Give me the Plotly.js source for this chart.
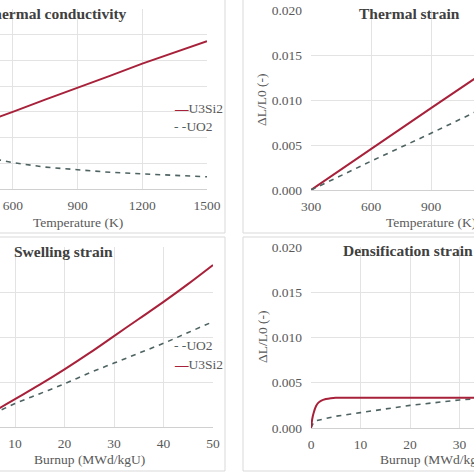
<!DOCTYPE html>
<html>
<head>
<meta charset="utf-8">
<script src="https://cdn.plot.ly/plotly-3.0.1.min.js"></script>
<style>
html,body{margin:0;padding:0;width:474px;height:474px;overflow:hidden;background:#fff;}
#wrap{position:absolute;left:-130px;top:0;width:730px;height:474px;}
</style>
</head>
<body>
<div id="wrap"></div>
<script>
// ---- Data ----
// Thermal conductivity panel
const tempK = [300, 450, 600, 750, 900, 1050, 1200, 1350, 1500];
const kU3Si2 = [8.3, 10.1, 12.0, 13.9, 15.7, 17.6, 19.5, 21.3, 23.0];
const kUO2 = [6.7, 5.1, 4.1, 3.4, 3.0, 2.6, 2.35, 2.1, 1.9];
// Thermal strain panel
const tempStrainK = [300, 600, 900, 1200, 1500];
const thermU3Si2 = [0, 0.0046, 0.0091, 0.0136, 0.0181];
const thermUO2 = [0, 0.0032, 0.0063, 0.0095, 0.0129];
// Swelling strain panel
const burnSwell = [0, 5, 10, 15, 20, 25, 30, 35, 40, 45, 50];
const swellU3Si2 = [0, 0.0015, 0.0031, 0.0047, 0.0064, 0.0082, 0.0101, 0.0120, 0.0139, 0.0159, 0.0180];
const swellUO2 = [0, 0.0013, 0.0026, 0.0037, 0.0048, 0.0060, 0.0071, 0.0082, 0.0093, 0.0105, 0.0117];
// Densification strain panel
const burnDensU3Si2 = [0, 0.25, 0.5, 1, 1.5, 2, 3, 4, 5, 10, 20, 30, 40, 50];
const densU3Si2 = [0, 0.0010, 0.0016, 0.0024, 0.0028, 0.0030, 0.0032, 0.0033, 0.00333, 0.00333, 0.00333, 0.00333, 0.00333, 0.00333];
const burnDensUO2 = [0, 0.5, 1, 5, 10, 15, 20, 25, 30, 35, 40, 50];
const densUO2 = [0, 0.0006, 0.0008, 0.0013, 0.0017, 0.0021, 0.0025, 0.0028, 0.0031, 0.0033, 0.0033, 0.0033];
// Labels
const panelTitles = ["Thermal conductivity", "Thermal strain", "Swelling strain", "Densification strain"];
const xTitles = ["Temperature (K)", "Temperature (K)", "Burnup (MWd/kgU)", "Burnup (MWd/kgU)"];
const yTitle = "ΔL/L0 (-)";
const seriesNames = ["U3Si2", "UO2"];

// ---- Geometry helpers (page pixel -> paper fraction) ----
const X0 = -130, W = 730, H = 474;
const fx = p => (p - X0) / W;
const fy = p => 1 - p / H;

const RED = "#a8213a", DASH = "#4f6363";
const FONT = "Liberation Serif, DejaVu Serif, serif";
const GRID = "#e3e3e3", TXT = "#595959";

function xax(dom, range, dtick, anchor) {
  return {domain: dom, range: range, dtick: dtick, tick0: range[0], anchor: anchor,
    showgrid: true, gridcolor: GRID, gridwidth: 1, zeroline: false,
    showline: true, linecolor: "#d0d0d0", linewidth: 1, ticks: "",
    ticklabelstandoff: 4,
    tickfont: {family: FONT, size: 13.5, color: TXT}, fixedrange: true};
}
function yax(dom, range, dtick, anchor, fmt) {
  return {domain: dom, range: range, dtick: dtick, tick0: 0, anchor: anchor,
    showgrid: true, gridcolor: GRID, gridwidth: 1, zeroline: false,
    showline: false, ticks: "", tickformat: fmt, ticklabelstandoff: 8,
    tickfont: {family: FONT, size: 13.5, color: TXT}, fixedrange: true};
}

const traces = [
  {x: tempK, y: kU3Si2, xaxis: "x", yaxis: "y", mode: "lines", name: seriesNames[0], line: {color: RED, width: 2}},
  {x: tempK, y: kUO2, xaxis: "x", yaxis: "y", mode: "lines", name: seriesNames[1], line: {color: DASH, width: 1.6, dash: "5px,5px"}},
  {x: tempStrainK, y: thermU3Si2, xaxis: "x2", yaxis: "y2", mode: "lines", name: seriesNames[0], line: {color: RED, width: 2}},
  {x: tempStrainK, y: thermUO2, xaxis: "x2", yaxis: "y2", mode: "lines", name: seriesNames[1], line: {color: DASH, width: 1.6, dash: "5px,5px"}},
  {x: burnSwell, y: swellUO2, xaxis: "x3", yaxis: "y3", mode: "lines", name: seriesNames[1], line: {color: DASH, width: 1.6, dash: "5px,5px", shape: "spline"}},
  {x: burnSwell, y: swellU3Si2, xaxis: "x3", yaxis: "y3", mode: "lines", name: seriesNames[0], line: {color: RED, width: 2, shape: "spline"}},
  {x: burnDensUO2, y: densUO2, xaxis: "x4", yaxis: "y4", mode: "lines", name: seriesNames[1], line: {color: DASH, width: 1.6, dash: "5px,5px"}},
  {x: burnDensU3Si2, y: densU3Si2, xaxis: "x4", yaxis: "y4", mode: "lines", name: seriesNames[0], line: {color: RED, width: 2, shape: "spline", smoothing: 0.6}}
];

// panel plot areas in page pixels: [left, right, top, bottom]
const P = [[-52, 207, 9, 189], [311, 551, 10, 190], [-34.5, 213, 247, 427], [311, 558.5, 247, 428]];
const dx = i => [fx(P[i][0]), fx(P[i][1])];
const dy = i => [fy(P[i][3]), fy(P[i][2])];

const boxes = [[-116, 225, -5, 233], [243, 569, -5, 233], [-100, 225, 237, 471], [243, 576, 237, 471]];
const shapes = boxes.map(b => ({type: "rect", xref: "paper", yref: "paper",
  x0: fx(b[0]), x1: fx(b[1]), y0: fy(b[3]), y1: fy(b[2]), line: {color: "#d9d9d9", width: 1}, fillcolor: "rgba(0,0,0,0)"}));

const ann = [];
const titlePos = [[54.5, 14], [409, 14], [63, 251], [408, 250]];
panelTitles.forEach((t, i) => ann.push({text: "<b>" + t + "</b>", xref: "paper", yref: "paper",
  x: fx(titlePos[i][0]), y: fy(titlePos[i][1]), xanchor: "center", yanchor: "middle", showarrow: false,
  font: {family: FONT, size: 15.5, color: "#404040"}}));
const xtPos = [[77.5, 222], [431, 222], [89, 459], [435, 459]];
xTitles.forEach((t, i) => ann.push({text: t, xref: "paper", yref: "paper",
  x: fx(xtPos[i][0]), y: fy(xtPos[i][1]), xanchor: "center", yanchor: "middle", showarrow: false,
  font: {family: FONT, size: 13.5, color: TXT}}));
[[262, 100], [262, 337]].forEach(p => ann.push({text: yTitle, xref: "paper", yref: "paper",
  x: fx(p[0]), y: fy(p[1]), xanchor: "center", yanchor: "middle", textangle: -90, showarrow: false,
  font: {family: FONT, size: 13.5, color: TXT}}));
// legends (Excel-style)
const leg = [[172, 109, 0], [172, 127, 1], [172, 345, 1], [172, 364, 0]];
leg.forEach(l => ann.push({
  text: (l[2] === 0 ? '<span style="color:' + RED + '"><b>—</b></span>' : '<span style="color:' + DASH + '">- -</span>') + seriesNames[l[2]],
  xref: "paper", yref: "paper", x: fx(l[0]), y: fy(l[1]), xanchor: "left", yanchor: "middle", showarrow: false,
  font: {family: FONT, size: 13.5, color: TXT}}));

const layout = {
  width: W, height: H, margin: {l: 0, r: 0, t: 0, b: 0}, showlegend: false,
  font: {family: FONT, size: 13.5, color: TXT},
  paper_bgcolor: "#ffffff", plot_bgcolor: "#ffffff",
  xaxis: xax(dx(0), [300, 1500], 300, "y"),
  yaxis: yax(dy(0), [0, 28], 4, "x", ""),
  xaxis2: xax(dx(1), [300, 1500], 300, "y2"),
  yaxis2: yax(dy(1), [0, 0.02], 0.005, "x2", ".3f"),
  xaxis3: xax(dx(2), [0, 50], 10, "y3"),
  yaxis3: yax(dy(2), [0, 0.02], 0.005, "x3", ".3f"),
  xaxis4: xax(dx(3), [0, 50], 10, "y4"),
  yaxis4: yax(dy(3), [0, 0.02], 0.005, "x4", ".3f"),
  shapes: shapes, annotations: ann
};
Plotly.newPlot("wrap", traces, layout, {staticPlot: true, displayModeBar: false});
</script>
</body>
</html>
